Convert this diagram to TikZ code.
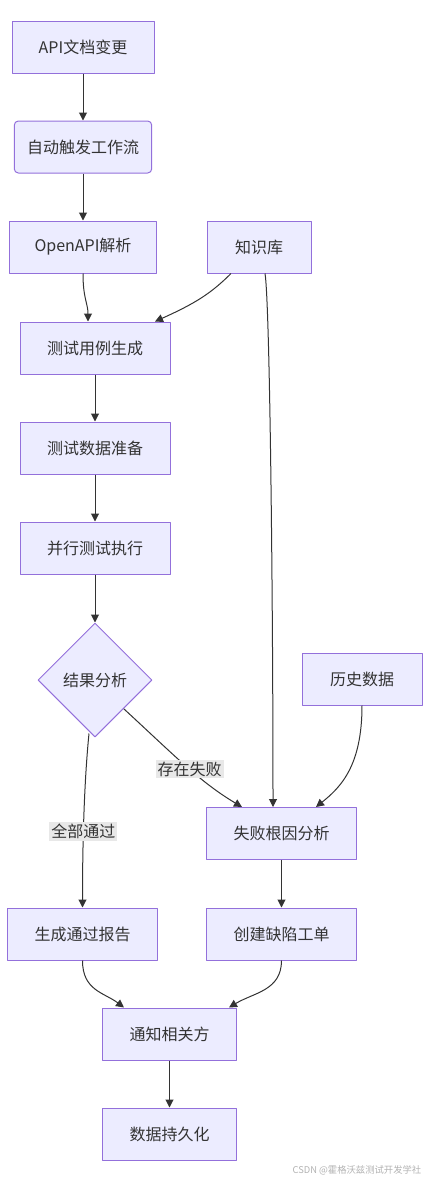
\documentclass[tikz,border=0pt]{standalone}
\usepackage{fontspec}
\setmainfont{Noto Sans CJK SC}
\usetikzlibrary{arrows.meta,shapes.geometric,calc}
\definecolor{boxfill}{HTML}{ECECFF}
\definecolor{boxline}{HTML}{9370DB}
\definecolor{ink}{HTML}{333333}
\definecolor{lblfill}{HTML}{E8E8E8}
\begin{document}
\begin{tikzpicture}[x=0.75pt,y=-0.75pt,font=\fontsize{12}{14}\selectfont,line join=round,
  box/.style={draw=boxline,fill=boxfill,line width=0.75pt,text=ink,minimum height=39pt,inner sep=2pt},
  flow/.style={draw=ink,line width=0.75pt,-{Triangle[length=6pt,width=6pt]}},
  lbl/.style={fill=lblfill,text=ink,inner sep=1.5pt}]
\useasboundingbox (0,0) rectangle (430,1182);
% boxes
\node[box,minimum width=106.5pt] (doc) at (83,47) {API文档变更};
\node[box,rounded corners=3pt,minimum width=103pt] (wf) at (83,147) {自动触发工作流};
\node[box,minimum width=110pt] (oapi) at (83,247) {OpenAPI解析};
\node[box,minimum width=78pt] (kb) at (259,247) {知识库};
\node[box,minimum width=112.5pt] (case) at (95,348) {测试用例生成};
\node[box,minimum width=112.5pt] (data) at (95,448) {测试数据准备};
\node[box,minimum width=112.5pt] (run) at (95,548) {并行测试执行};
\node[diamond,draw=boxline,fill=boxfill,line width=0.75pt,text=ink,minimum width=85.5pt,minimum height=85.5pt,inner sep=0pt] (res) at (95,680) {结果分析};
\node[box,minimum width=90pt] (hist) at (362,679) {历史数据};
\node[box,minimum width=113pt] (root) at (281.5,833.5) {失败根因分析};
\node[box,minimum width=113pt] (pass) at (82.5,934) {生成通过报告};
\node[box,minimum width=113pt] (bug) at (281.5,934) {创建缺陷工单};
\node[box,minimum width=101pt] (note) at (169.5,1034) {通知相关方};
\node[box,minimum width=101pt] (keep) at (169.5,1134) {数据持久化};
% arrows
\draw[flow] (doc) -- (wf);
\draw[flow] (wf) -- (oapi);
\draw[flow] (oapi.south) .. controls +(0,25) and +(0,-18) .. ($(case.north)+(-7,0)$);
\draw[flow] ($(kb.south)+(-28,0)$) .. controls +(-20,20) and +(40,-18) .. ($(case.north)+(60,0)$);
\draw[flow] ($(kb.south)+(6,0)$) .. controls +(5,30) and +(0,-200) .. ($(root.north)+(-8.5,0)$);
\draw[flow] (case) -- (data);
\draw[flow] (data) -- (run);
\draw[flow] (run) -- (res);
\draw[flow] (res.south east) .. controls (175,756) and (200,782) .. ($(root.north)+(-39.5,0)$) node[lbl,pos=0.53] {存在失败};
\draw[flow] ($(res.south)+(-6,-4)$) .. controls +(-6,60) and +(0,-40) .. (pass.north) node[lbl,pos=0.52] {全部通过};
\draw[flow] (hist.south) .. controls +(0,60) and +(25,-20) .. ($(root.north)+(34.5,0)$);
\draw[flow] (root) -- (bug);
\draw[flow] (pass.south) .. controls +(0,30) and +(-20,-15) .. ($(note.north)+(-45.5,0)$);
\draw[flow] (bug.south) .. controls +(0,30) and +(25,-15) .. ($(note.north)+(59.5,0)$);
\draw[flow] (note) -- (keep);
\node[text=black!30,font=\fontsize{7}{9}\selectfont,anchor=east] (mark) at (426,1170) {CSDN @霍格沃兹测试开发学社};
\end{tikzpicture}
\end{document}
